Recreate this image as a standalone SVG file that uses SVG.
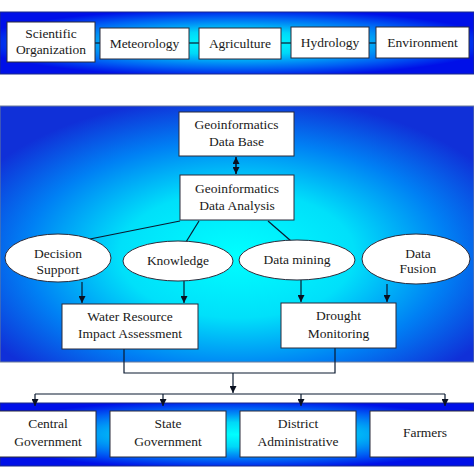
<svg xmlns="http://www.w3.org/2000/svg" width="474" height="474" viewBox="0 0 474 474">
<defs>
<radialGradient id="bandTop" cx="50%" cy="50%" r="55%">
<stop offset="0" stop-color="#00ffff"/>
<stop offset="0.35" stop-color="#00d8f8"/>
<stop offset="0.75" stop-color="#0060f4"/>
<stop offset="1" stop-color="#0010e8"/>
</radialGradient>
<radialGradient id="bandMid" cx="50%" cy="58%" r="62%">
<stop offset="0" stop-color="#00ffff"/>
<stop offset="0.4" stop-color="#00e0fa"/>
<stop offset="0.72" stop-color="#0080f4"/>
<stop offset="1" stop-color="#1030d8"/>
</radialGradient>
<marker id="ah" viewBox="0 0 10 10" refX="10" refY="5" markerWidth="7" markerHeight="7" orient="auto-start-reverse" markerUnits="userSpaceOnUse">
<path d="M0,0 L10,5 L0,10 z" fill="#0a1020"/>
</marker>
<style>
.box{fill:#ffffff;stroke:#2a2a3a;stroke-width:1}
.ell{fill:#ffffff;stroke:#2a2a3a;stroke-width:1}
.t{font-family:'Liberation Serif','DejaVu Serif',serif;font-size:13.5px;fill:#1a1a1a;text-anchor:middle}
.ln{stroke:#0a1a30;stroke-width:1.2;fill:none}
.arr{stroke:#0a1a30;stroke-width:1.2;fill:none;marker-end:url(#ah)}
.arr2{stroke:#0a1a30;stroke-width:1.6;fill:none;marker-end:url(#ah);marker-start:url(#ah)}
</style>
</defs>
<rect x="0" y="0" width="474" height="474" fill="#ffffff"/>
<rect id="band-top" x="0" y="12" width="474" height="62" fill="url(#bandTop)" stroke="#1a2a8a" stroke-width="1"/>
<rect id="band-mid" x="0" y="106" width="474" height="256" fill="url(#bandMid)" stroke="#6a7a9a" stroke-width="1"/>
<rect id="band-bot" x="0" y="403" width="474" height="63" fill="url(#bandTop)" stroke="#1a2a8a" stroke-width="1"/>

<g id="connectors">
<line class="ln" x1="95" y1="43" x2="100" y2="43"/>
<line class="ln" x1="189" y1="43" x2="199" y2="43"/>
<line class="ln" x1="281" y1="43" x2="291" y2="43"/>
<line class="ln" x1="369" y1="43" x2="376" y2="43"/>
<line class="arr2" x1="236" y1="157" x2="236" y2="174"/>
<line class="ln" x1="180" y1="221" x2="80" y2="241"/>
<line class="ln" x1="199" y1="221" x2="186" y2="242"/>
<line class="ln" x1="268" y1="221" x2="291" y2="241"/>
<line class="arr" x1="82" y1="282" x2="82" y2="303"/>
<line class="arr" x1="184" y1="280" x2="184" y2="303"/>
<line class="arr" x1="301" y1="280" x2="301" y2="302"/>
<line class="arr" x1="387" y1="284" x2="387" y2="302"/>
<polyline class="ln" points="124,349 124,373 335,373 335,348"/>
<line class="arr" x1="233" y1="373" x2="233" y2="393"/>
<line class="ln" x1="35" y1="394" x2="445" y2="394"/>
<line class="arr" x1="35" y1="394" x2="35" y2="406"/>
<line class="arr" x1="163" y1="394" x2="163" y2="406"/>
<line class="arr" x1="301" y1="394" x2="301" y2="406"/>
<line class="arr" x1="445" y1="394" x2="445" y2="406"/>
</g>

<g id="scientific-organization"><rect class="box" x="7" y="22" width="88" height="40"/><text class="t" font-family="Liberation Serif, serif" x="51" y="38">Scientific</text><text class="t" x="51" y="54">Organization</text></g>
<g id="meteorology"><rect class="box" x="100" y="28" width="89" height="31"/><text class="t" x="144.5" y="47.5">Meteorology</text></g>
<g id="agriculture"><rect class="box" x="199" y="28" width="82" height="31"/><text class="t" x="240" y="47.5">Agriculture</text></g>
<g id="hydrology"><rect class="box" x="291" y="27" width="78" height="31"/><text class="t" x="330" y="46.5">Hydrology</text></g>
<g id="environment"><rect class="box" x="376" y="27" width="93" height="31"/><text class="t" x="422.5" y="46.5">Environment</text></g>

<g id="geo-database"><rect class="box" x="179" y="112" width="115" height="44"/><text class="t" x="236.5" y="129">Geoinformatics</text><text class="t" x="236.5" y="146">Data Base</text></g>
<g id="geo-analysis"><rect class="box" x="180" y="175" width="114" height="45"/><text class="t" x="237" y="193">Geoinformatics</text><text class="t" x="237" y="210">Data Analysis</text></g>

<g id="decision-support"><ellipse class="ell" cx="58" cy="258" rx="53" ry="24"/><text class="t" x="58" y="258">Decision</text><text class="t" x="58" y="274">Support</text></g>
<g id="knowledge"><ellipse class="ell" cx="178" cy="261" rx="55" ry="20"/><text class="t" x="178" y="265">Knowledge</text></g>
<g id="data-mining"><ellipse class="ell" cx="297" cy="260" rx="58" ry="20"/><text class="t" x="297" y="264">Data mining</text></g>
<g id="data-fusion"><ellipse class="ell" cx="416" cy="259" rx="54" ry="25"/><text class="t" x="418" y="258">Data</text><text class="t" x="418" y="273">Fusion</text></g>

<g id="water-resource"><rect class="box" x="62" y="304" width="136" height="45"/><text class="t" x="130" y="321">Water Resource</text><text class="t" x="130" y="338">Impact Assessment</text></g>
<g id="drought-monitoring"><rect class="box" x="281" y="303" width="115" height="45"/><text class="t" x="338.5" y="320">Drought</text><text class="t" x="338.5" y="338">Monitoring</text></g>

<g id="central-government"><rect class="box" x="-1" y="411" width="97" height="46"/><text class="t" x="48" y="428">Central</text><text class="t" x="48" y="446">Government</text></g>
<g id="state-government"><rect class="box" x="110" y="411" width="116" height="46"/><text class="t" x="168" y="428">State</text><text class="t" x="168" y="446">Government</text></g>
<g id="district-administrative"><rect class="box" x="240" y="411" width="116" height="46"/><text class="t" x="298" y="428">District</text><text class="t" x="298" y="446">Administrative</text></g>
<g id="farmers"><rect class="box" x="370" y="411" width="105" height="46"/><text class="t" x="425" y="437">Farmers</text></g>
</svg>
